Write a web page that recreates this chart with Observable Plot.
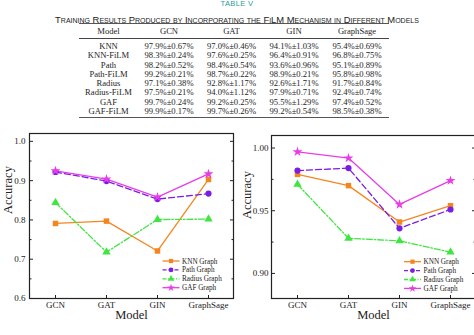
<!DOCTYPE html>
<html><head><meta charset="utf-8">
<script src="https://cdn.jsdelivr.net/npm/d3@7"></script>
<script src="https://cdn.jsdelivr.net/npm/@observablehq/plot@0.6"></script>
<style>
html,body{margin:0;padding:0;background:#fff;}
#page{position:relative;width:474px;height:335px;overflow:hidden;background:#fff;}
#tabTitle{position:absolute;left:0;width:474px;top:-1px;text-align:center;font:7.6px "Liberation Sans",sans-serif;color:#2a9c9c;letter-spacing:0.3px;}
#tabCaption{position:absolute;left:0;width:474px;top:9px;text-align:center;color:#222;white-space:nowrap;}
#tabCaption span{font-family:"Liberation Sans",sans-serif;font-variant:small-caps;font-size:8px;display:inline-block;}
#tbl{position:absolute;left:79px;top:23px;width:310px;border-top:1.6px solid #555;border-bottom:1.6px solid #555;font-family:"Liberation Serif",serif;font-size:8.6px;color:#1e1e1e;}
.row{display:grid;grid-template-columns:59px 62px 63px 62px 64px;}
.row div{text-align:center;white-space:nowrap;}
.head{height:14px;line-height:14px;border-bottom:1px solid #444;}
.body{padding-top:3px;padding-bottom:1.2px;}
.body .row{height:9.25px;line-height:9.25px;}
.chart{position:absolute;top:120px;width:240px;height:215px;overflow:visible;}
.chart svg{display:block;width:240px !important;height:215px !important;max-width:none !important;}
</style>
</head><body>
<div id="page">
  <div id="tabTitle"></div>
  <div id="tabCaption"><span></span></div>
  <div id="tbl"></div>
  <div id="c1" class="chart" style="left:0px"></div>
  <div id="c2" class="chart" style="left:240px"></div>
</div>
<script>
// ---------- table data ----------
const tableTitle = "TABLE V";
const tableCaption = "Training Results Produced by Incorporating the FiLM Mechanism in Different Models";
const tableHeader = ["Model", "GCN", "GAT", "GIN", "GraphSage"];
const tableModels = ["KNN", "KNN-FiLM", "Path", "Path-FiLM", "Radius", "Radius-FiLM", "GAF", "GAF-FiLM"];
const tableGCN = ["97.9%±0.67%", "98.3%±0.24%", "98.2%±0.52%", "99.2%±0.21%", "97.1%±0.38%", "97.5%±0.21%", "99.7%±0.24%", "99.9%±0.17%"];
const tableGAT = ["97.0%±0.46%", "97.6%±0.25%", "98.4%±0.54%", "98.7%±0.22%", "92.8%±1.17%", "94.0%±1.12%", "99.2%±0.25%", "99.7%±0.26%"];
const tableGIN = ["94.1%±1.03%", "96.4%±0.91%", "93.6%±0.96%", "98.9%±0.21%", "92.6%±1.71%", "97.9%±0.71%", "95.5%±1.29%", "99.2%±0.54%"];
const tableGraphSage = ["95.4%±0.69%", "96.8%±0.75%", "95.1%±0.89%", "95.8%±0.98%", "91.7%±0.84%", "92.4%±0.74%", "97.4%±0.52%", "98.5%±0.38%"];

// ---------- chart data ----------
const models = ["GCN", "GAT", "GIN", "GraphSage"];
const seriesNames = ["KNN Graph", "Path Graph", "Radius Graph", "GAF Graph"];
const seriesColors = ["#f5861f", "#7a1ee6", "#3fe63f", "#e83ce8"];
const seriesSymbols = ["square", "circle", "triangle", "star"];
const seriesDash = [null, "6,3", "6,2,1.5,2", null];

const leftKNN = [0.791, 0.797, 0.721, 0.903];
const leftPath = [0.922, 0.899, 0.853, 0.867];
const leftRadius = [0.844, 0.718, 0.801, 0.802];
const leftGAF = [0.925, 0.904, 0.858, 0.917];

const rightKNN = [0.979, 0.970, 0.941, 0.954];
const rightPath = [0.982, 0.984, 0.936, 0.951];
const rightRadius = [0.971, 0.928, 0.926, 0.917];
const rightGAF = [0.997, 0.992, 0.955, 0.974];

const leftMajorTicks = [0.6, 0.7, 0.8, 0.9, 1.0];
const leftMinorTicks = [0.65, 0.75, 0.85, 0.95];
const rightMajorTicks = [0.90, 0.95, 1.00];
const rightMinorTicks = [0.925, 0.975];

// ---------- table ----------
d3.select("#tabTitle").text(tableTitle);
d3.select("#tabCaption span").text(tableCaption);
{
  const span = document.querySelector("#tabCaption span");
  const w = span.getBoundingClientRect().width;
  span.style.fontSize = (8 * 366 / w) + "px";
}
const tbl = d3.select("#tbl");
tbl.append("div").attr("class", "row head").selectAll("div").data(tableHeader).join("div").text(d => d);
const body = tbl.append("div").attr("class", "body");
tableModels.forEach((m, i) => {
  body.append("div").attr("class", "row").selectAll("div")
    .data([m, tableGCN[i], tableGAT[i], tableGIN[i], tableGraphSage[i]])
    .join("div").text(d => d);
});

// ---------- charts ----------
function longData(arrs) {
  const out = [];
  arrs.forEach((vals, s) => vals.forEach((v, j) => out.push({series: seriesNames[s], model: models[j], value: v})));
  return out;
}

function makeChart(cfg) {
  const data = longData(cfg.series);
  const blank = () => "";
  const marks = [
    Plot.frame({stroke: "#222", strokeWidth: 1.2}),
    Plot.axisY({ticks: cfg.major, tickFormat: cfg.fmt, tickSize: 0, tickPadding: cfg.tickPad, label: null, fontSize: 9}),
    Plot.axisY({ticks: cfg.major, tickSize: -4, tickFormat: blank, label: null}),
    Plot.axisY({ticks: cfg.minor, tickSize: -2.5, tickFormat: blank, label: null}),
    Plot.axisY({anchor: "right", ticks: cfg.major, tickSize: -4, tickFormat: blank, label: null}),
    Plot.axisY({anchor: "right", ticks: cfg.minor, tickSize: -2.5, tickFormat: blank, label: null}),
    Plot.axisX({tickSize: 0, tickPadding: 3, label: null, fontSize: 9}),
    Plot.axisX({tickSize: -3, tickFormat: blank, label: null}),
    Plot.text(["Accuracy"], {frameAnchor: "left", rotate: -90, dx: cfg.yLabelDx, dy: cfg.yLabelDy, fontSize: 12.5}),
    Plot.text(["Model"], {frameAnchor: "bottom", dy: 20, fontSize: 12.5})
  ];
  seriesNames.forEach((name, i) => {
    marks.push(Plot.line(data.filter(d => d.series === name), {
      x: "model", y: "value", stroke: seriesColors[i], strokeWidth: 1.3,
      strokeDasharray: seriesDash[i]
    }));
  });
  marks.push(Plot.dot(data, {x: "model", y: "value", fill: "series", symbol: "series", r: 3.1, stroke: null}));

  const svg = Plot.plot({
    width: cfg.width, height: 215,
    marginLeft: cfg.ml, marginRight: cfg.mr, marginTop: cfg.mt, marginBottom: cfg.mb,
    style: {fontFamily: "'Liberation Serif', serif", fontSize: "9px", color: "#222", background: "transparent", overflow: "visible"},
    x: {type: "point", domain: models, padding: 0.5, axis: null},
    y: {domain: cfg.yDomain, axis: null},
    color: {domain: seriesNames, range: seriesColors},
    symbol: {domain: seriesNames, range: seriesSymbols},
    marks
  });

  // legend
  const g = d3.select(svg).append("g")
    .attr("font-family", "'Liberation Serif', serif").attr("font-size", 7.2).attr("text-anchor", "start");
  seriesNames.forEach((name, i) => {
    const y = cfg.legY + i * 8.9;
    const row = g.append("g").attr("transform", `translate(${cfg.legX},${y})`);
    row.append("line").attr("x1", 0).attr("x2", 17).attr("stroke", seriesColors[i]).attr("stroke-width", 1.3)
      .attr("stroke-dasharray", seriesDash[i] ? (i === 1 ? "4,2" : "4,1.5,1,1.5") : null);
    const symType = [d3.symbolSquare, d3.symbolCircle, d3.symbolTriangle, d3.symbolStar][i];
    row.append("path").attr("transform", "translate(8.5,0)").attr("d", d3.symbol(symType, 18)()).attr("fill", seriesColors[i]);
    row.append("text").attr("x", 19.5).attr("dy", "0.35em").attr("fill", "#222").attr("text-anchor", "start").text(name);
  });
  return svg;
}

document.getElementById("c1").append(makeChart({
  series: [leftKNN, leftPath, leftRadius, leftGAF],
  width: 240, ml: 29, mr: 7, mt: 13, mb: 37,
  yDomain: [0.6, 1.02], major: leftMajorTicks, minor: leftMinorTicks, fmt: d3.format(".1f"), tickPad: 4,
  yLabelDx: -22, yLabelDy: -2, legX: 162.5, legY: 141
}));
document.getElementById("c2").append(makeChart({
  series: [rightKNN, rightPath, rightRadius, rightGAF],
  width: 240, ml: 31, mr: 5, mt: 15, mb: 37,
  yDomain: [0.88, 1.01], major: rightMajorTicks, minor: rightMinorTicks, fmt: d3.format(".2f"), tickPad: 3,
  yLabelDx: -25, yLabelDy: 2, legX: 164, legY: 141.7
}));
</script>
</body></html>
